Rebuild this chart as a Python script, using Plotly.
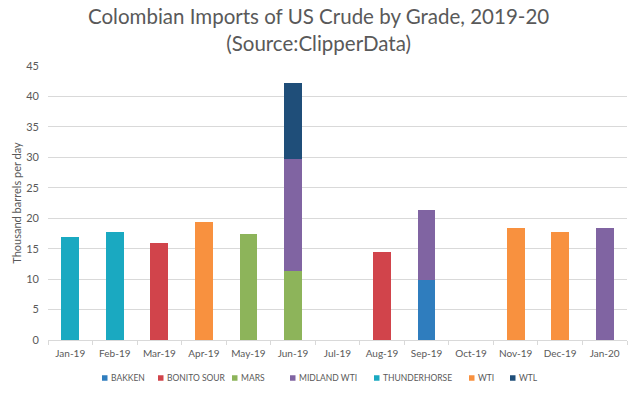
import plotly.graph_objects as go

months = ["Jan-19", "Feb-19", "Mar-19", "Apr-19", "May-19", "Jun-19", "Jul-19",
          "Aug-19", "Sep-19", "Oct-19", "Nov-19", "Dec-19", "Jan-20"]

bakken       = [None, None, None, None, None, None, None, None, 9.9, None, None, None, None]
bonito_sour  = [None, None, 16.0, None, None, None, None, 14.4, None, None, None, None, None]
mars         = [None, None, None, None, 17.4, 11.3, None, None, None, None, None, None, None]
midland_wti  = [None, None, None, None, None, 18.5, None, None, 11.5, None, None, None, 18.4]
thunderhorse = [16.9, 17.8, None, None, None, None, None, None, None, None, None, None, None]
wti          = [None, None, None, 19.4, None, None, None, None, None, None, 18.4, 17.7, None]
wtl          = [None, None, None, None, None, 12.4, None, None, None, None, None, None, None]

grades = ["BAKKEN", "BONITO SOUR", "MARS", "MIDLAND WTI", "THUNDERHORSE", "WTI", "WTL"]
grade_values = [bakken, bonito_sour, mars, midland_wti, thunderhorse, wti, wtl]
grade_colors = ["#2F7DBE", "#D1444B", "#8DB45A", "#8064A2", "#1AA9C1", "#F8913F", "#1F4E79"]

W, H = 637, 393
ML, MR, MT, MB = 48, 10, 66, 53
PW, PH = W - ML - MR, H - MT - MB

def px_to_paper_x(px):
    return (px - ML) / PW

def px_to_paper_y(py):
    return (H - MB - py) / PH

fig = go.Figure()
for name, vals, color in zip(grades, grade_values, grade_colors):
    fig.add_trace(go.Bar(x=months, y=vals, name=name, marker_color=color,
                         marker_line_width=0, showlegend=False))

# Manual legend (small squares + labels), laid out like the original
legend_square_x = [102, 158, 232, 290, 374, 469, 510]
legend_y = 378
for name, color, sx in zip(grades, grade_colors, legend_square_x):
    fig.add_shape(type="rect", xref="paper", yref="paper",
                  x0=px_to_paper_x(sx), x1=px_to_paper_x(sx + 5.5),
                  y0=px_to_paper_y(legend_y + 2.75), y1=px_to_paper_y(legend_y - 2.75),
                  fillcolor=color, line_width=0)
    fig.add_annotation(text=name, xref="paper", yref="paper",
                       x=px_to_paper_x(sx + 6.5), y=px_to_paper_y(legend_y),
                       xanchor="left", yanchor="middle", showarrow=False,
                       font=dict(size=8.5, color="#595959"))

font_family = "Lato, 'Open Sans', sans-serif"

# Chart title (two lines)
fig.add_annotation(text="Colombian Imports of US Crude by Grade, 2019-20<br>(Source:ClipperData)",
                   xref="paper", yref="paper", x=px_to_paper_x(318), y=px_to_paper_y(2),
                   xanchor="center", yanchor="top", showarrow=False,
                   font=dict(size=20.5, color="#595959", family=font_family))

fig.update_layout(
    barmode="stack",
    bargap=0.6,
    width=W, height=H,
    margin=dict(l=ML, r=MR, t=MT, b=MB),
    paper_bgcolor="white", plot_bgcolor="white",
    font=dict(family=font_family, color="#595959", size=10),
    showlegend=False,
)
fig.update_xaxes(type="category", showgrid=False, showline=True, linecolor="#D9D9D9",
                 ticks="outside", tickson="boundaries", ticklen=4, tickcolor="#D9D9D9",
                 tickfont=dict(size=10, color="#595959"), tickangle=0,
                 ticklabelstandoff=4, automargin=False)
fig.update_yaxes(range=[0, 45], dtick=5, showgrid=True, gridcolor="#D9D9D9",
                 zeroline=False, showline=False, ticks="", automargin=True,
                 ticklabelstandoff=8,
                 tickfont=dict(size=11, color="#595959"),
                 title=dict(text="Thousand barrels per day", standoff=2,
                            font=dict(size=11, color="#595959")))

fig.write_html("out.html", config={"displayModeBar": False},
               post_script="document.body.style.margin='0';")
